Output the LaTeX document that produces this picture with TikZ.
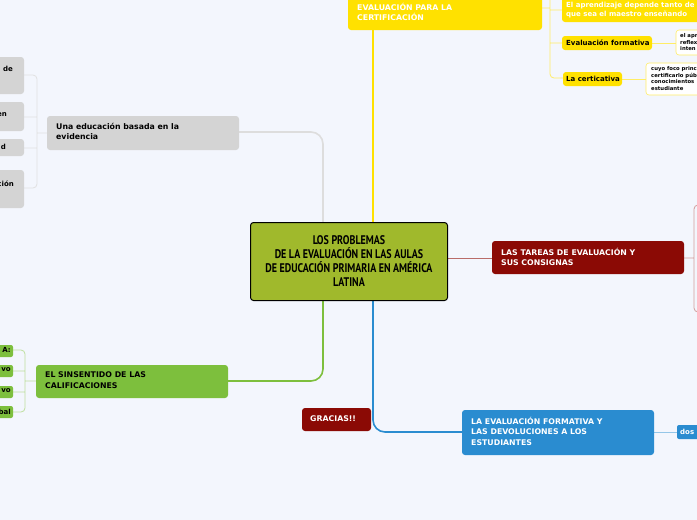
\documentclass[tikz,border=0pt]{standalone}
\usepackage{fontspec}
\setmainfont{DejaVu Sans}
\newfontfamily\narrowf{PT Sans}
\begin{document}
\begin{tikzpicture}[x=1pt,y=-1pt,
 box/.style={rounded corners=3pt,inner sep=0pt,anchor=north west,font=\bfseries\fontsize{7.8}{10.5}\selectfont,align=left,text depth=0pt},
 conn/.style={line width=1.6pt,rounded corners=12pt}]
\definecolor{bg}{HTML}{F3F6FD}
\definecolor{olive}{HTML}{A0B92C}
\definecolor{yel}{HTML}{FFE100}
\definecolor{dred}{HTML}{8B0A05}
\definecolor{blu}{HTML}{2A8CD0}
\definecolor{gry}{HTML}{D4D4D4}
\definecolor{grn}{HTML}{7DBF3D}
\useasboundingbox (0,0) rectangle (697,520);
\clip (0,0) rectangle (697,520);
\fill[bg] (0,0) rectangle (697,520);
% connectors
\coordinate (cg) at (323,222);
\coordinate (cb) at (373,300);
\draw[conn,gry!80] (cg) -- (323,132) -- (239,132);
\draw[conn,yel] (373,222) -- (373,30);
\draw[conn,grn] (323,300) -- (323,381) -- (228,381);
\draw[conn,blu] (cb) -- (373,432) -- (462,432);
\draw[line width=0.6pt,dred!60] (447,258) -- (492,258);
% yellow children bracket
\draw[yel!60,line width=0.8pt,rounded corners=4pt] (542,8) -- (550,8) (550,0) -- (550,78) -- (563,78) (550,43) -- (562,43) (550,10) -- (562,10);
\draw[yel!60,line width=0.8pt] (652,43) -- (676,43) (622,79) -- (646,79);
% grey bracket
\draw[gry!70,line width=0.8pt,rounded corners=4pt] (47,133) -- (37,133) (24,75) -- (37,75) -- (37,188) -- (24,188) (24,117) -- (37,117) (24,148) -- (37,148);
% green bracket
\draw[grn!50,line width=0.8pt,rounded corners=4pt] (36,381) -- (25,381) (13,350) -- (25,350) -- (25,412) -- (13,412) (13,371) -- (25,371) (13,392) -- (25,392);
% red bracket
\draw[dred!40,line width=0.8pt,rounded corners=4pt] (697,205) -- (694,205) -- (694,312) -- (697,312) (684,258) -- (694,258);
\draw[blu!50,line width=0.8pt] (654,432) -- (677,432);
% center
\node[draw=black,line width=1pt,fill=olive,rounded corners=3pt,minimum width=197pt,minimum height=78pt,align=center,
 font=\narrowf\bfseries\fontsize{12.5}{14}\selectfont,anchor=north west] (c) at (250,222)
 {\scalebox{0.8}[1]{LOS PROBLEMAS}\\\scalebox{0.8}[1]{DE LA EVALUACIÓN EN LAS AULAS}\\\scalebox{0.8}[1]{DE EDUCACIÓN PRIMARIA EN AMÉRICA}\\\scalebox{0.8}[1]{LATINA}};
% main topics
\fill[yel,rounded corners=3pt] (348,-5) rectangle (542,30);
\node[box,text=white] (y) at (357,3) {EVALUACIÓN PARA LA\\CERTIFICACIÓN};
\fill[dred,rounded corners=3pt] (492,241) rectangle (684,274);
\node[box,text=white] (r) at (501,248) {LAS TAREAS DE EVALUACIÓN Y\\SUS CONSIGNAS};
\fill[blu,rounded corners=3pt] (462,410) rectangle (654,455);
\node[box,text=white] (b) at (471,417) {LA EVALUACIÓN FORMATIVA Y\\LAS DEVOLUCIONES A LOS\\ESTUDIANTES};
\fill[dred,rounded corners=3pt] (302,408) rectangle (371,431);
\node[box,text=white] (gr) at (310,416) {GRACIAS!!};
\fill[gry,rounded corners=3pt] (47,116) rectangle (239,150);
\node[box] (g) at (56,123) {Una educación basada en la\\evidencia};
\fill[grn,rounded corners=3pt] (36,365) rectangle (228,398);
\node[box] (gn) at (45,372) {EL SINSENTIDO DE LAS\\CALIFICACIONES};
% yellow children
\tikzset{small/.style={box,font=\bfseries\fontsize{7}{9}\selectfont},tiny/.style={box,font=\bfseries\fontsize{5.3}{6.8}\selectfont}}
\fill[yel,rounded corners=3pt] (562,-5) rectangle (700,22);
\node[small,text=white] (y1) at (566,2) {El aprendizaje depende tanto de\\que sea el maestro enseñando};
\fill[yel,rounded corners=3pt] (562,36) rectangle (652,50);
\node[small] (y2) at (566,39.5) {Evaluación formativa};
\fill[yel,rounded corners=3pt] (563,72) rectangle (622,86);
\node[small] (y3) at (566,75.5) {La certicativa};
\draw[yel!60,fill=white,rounded corners=3pt,line width=0.6pt] (676,30) rectangle (705,55);
\node[tiny] (y2a) at (680,33) {el apr\\reflex\\inten};
\draw[yel!60,fill=white,rounded corners=3pt,line width=0.6pt] (646,63) rectangle (705,95);
\node[tiny] (y3a) at (651,66) {cuyo foco princ\\certificarlo púb\\conocimientos\\estudiante};
% grey children
\fill[gry,rounded corners=3pt] (-10,57) rectangle (24,94);
\node[small,anchor=north east] (g1) at (13,66) {n de\\s};
\fill[gry,rounded corners=3pt] (-10,102) rectangle (24,131);
\node[small,anchor=north east] (g2) at (7,112) {en};
\fill[gry,rounded corners=3pt] (-10,139) rectangle (24,156);
\node[small,anchor=north east] (g3) at (6,143.5) {d};
\fill[gry,rounded corners=3pt] (-10,170) rectangle (24,208);
\node[small,anchor=north east] (g4) at (14,181) {ción};
% green children
\foreach \yy/\t in {345/A:,365/vo,386/vo,406/bal}{
 \fill[grn,rounded corners=2pt] (-10,\yy) rectangle (13,\yy+12);
 \node[small,anchor=north east] at (11,\yy+2.5) {\t};}
\fill[blu,rounded corners=2pt] (677,425) rectangle (705,439);
\node[small,text=white] (d) at (680,428.5) {dos};
\end{tikzpicture}
\end{document}
